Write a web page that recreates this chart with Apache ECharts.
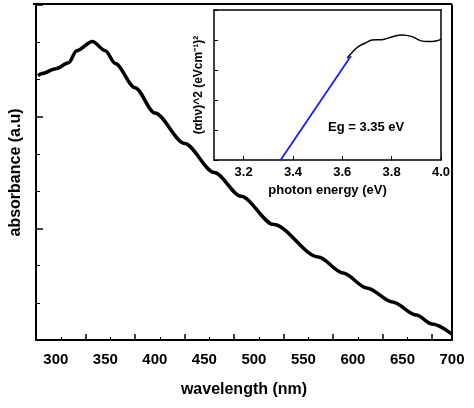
<!DOCTYPE html><html><head><meta charset="utf-8"><script src="https://cdn.jsdelivr.net/npm/echarts@6/dist/echarts.min.js"></script></head><body style="margin:0"><div id="c" style="width:474px;height:408px"></div><script>
const wl=[282,286,300,313,321,337,350,360,380,400,430,460,487,520,565,590,614,640,664,680,700];
const ab=[6.10,6.16,6.29,6.45,6.77,7.02,6.77,6.43,5.78,5.10,4.28,3.50,2.86,2.10,1.23,0.80,0.40,0.02,-0.33,-0.57,-0.84];
const en=[3.62,3.66,3.70,3.72,3.76,3.80,3.84,3.88,3.92,3.95,3.98,4.00];
const ah=[3.40,3.75,3.93,4.00,4.01,4.10,4.17,4.12,3.97,3.95,3.97,4.02];
const fitX=[3.35,3.635];const fitY=[0,3.47];
const xTicks=['300','350','400','450','500','550','600','650','700'];
const f='Arial, Liberation Sans, sans-serif';
const ch=echarts.init(document.getElementById('c'));
ch.setOption({animation:false,
grid:[{left:33,right:22,top:5,bottom:68},{left:214,right:33,top:10,bottom:248,show:true,backgroundColor:'#fff',borderWidth:0,z:5}],
xAxis:[{gridIndex:0,type:'value',min:280,max:700,interval:50,
 axisLine:{onZero:false,lineStyle:{color:'#000',width:2}},axisTick:{inside:true,length:6,lineStyle:{color:'#000',width:1.5}},
 minorTick:{show:true,splitNumber:2,length:3,lineStyle:{color:'#000'}},splitLine:{show:false},
 axisLabel:{color:'#000',fontSize:15,fontWeight:'bold',fontFamily:f,margin:12,customValues:[300,350,400,450,500,550,600,650,700],formatter:v=>xTicks[(v-300)/50]},
 name:'wavelength (nm)',nameLocation:'middle',nameGap:42,nameTextStyle:{color:'#000',fontSize:16,fontWeight:'bold',fontFamily:f}},
{gridIndex:1,type:'value',min:3.08,max:4.0,z:6,
 axisLine:{onZero:false,lineStyle:{color:'#000',width:1.5}},axisTick:{inside:true,length:4,customValues:[3.2,3.4,3.6,3.8,4.0],lineStyle:{color:'#000'}},splitLine:{show:false},
 axisLabel:{color:'#000',fontSize:13,fontWeight:'bold',fontFamily:f,margin:6,customValues:[3.2,3.4,3.6,3.8,4.0],formatter:v=>v.toFixed(1)},
 name:'photon energy (eV)',nameLocation:'middle',nameGap:24,nameTextStyle:{color:'#000',fontSize:13,fontWeight:'bold',fontFamily:f}},
{gridIndex:1,type:'value',min:3.08,max:4.0,position:'top',z:6,axisLine:{onZero:false,lineStyle:{color:'#000',width:1.5}},axisTick:{show:false},axisLabel:{show:false},splitLine:{show:false}}],
yAxis:[{gridIndex:0,type:'value',min:-1,max:8,interval:3,
 axisLine:{onZero:false,lineStyle:{color:'#000',width:2}},axisTick:{inside:true,length:7,lineStyle:{color:'#000',width:1.5}},
 minorTick:{show:true,splitNumber:3,length:4,lineStyle:{color:'#000'}},splitLine:{show:false},axisLabel:{show:false},
 name:'absorbance (a.u)',nameLocation:'middle',nameGap:12,nameTextStyle:{color:'#000',fontSize:16,fontWeight:'bold',fontFamily:f}},
{gridIndex:0,type:'value',min:-1,max:9,position:'right',axisLine:{onZero:false,lineStyle:{color:'#000',width:2}},axisTick:{show:false},axisLabel:{show:false},splitLine:{show:false}},
{gridIndex:0,type:'value',min:-1,max:9,show:false},
{gridIndex:1,type:'value',min:0,max:5,interval:1,z:6,
 axisLine:{onZero:false,lineStyle:{color:'#000',width:1.5}},axisTick:{inside:true,length:4,lineStyle:{color:'#000'}},splitLine:{show:false},axisLabel:{show:false},
 name:'(αhν)^2 (eVcm⁻¹)²',nameLocation:'middle',nameGap:9,nameTextStyle:{color:'#000',fontSize:12,fontWeight:'bold',fontFamily:f}},
{gridIndex:1,type:'value',min:0,max:5,position:'right',z:6,axisLine:{onZero:false,lineStyle:{color:'#000',width:1.5}},axisTick:{show:false},axisLabel:{show:false},splitLine:{show:false}}],
graphic:[{type:'line',shape:{x1:33,y1:4,x2:452,y2:4},style:{stroke:'#000',lineWidth:2}},
 {type:'text',left:328,top:121,z:20,style:{text:'Eg = 3.35 eV',fill:'#000',font:'bold 13px Arial, Liberation Sans, sans-serif'}}],
series:[{type:'line',xAxisIndex:0,yAxisIndex:0,data:wl.map((x,i)=>[x,ab[i]]),smooth:0.3,smoothMonotone:'x',showSymbol:false,lineStyle:{color:'#000',width:3.5}},
{type:'line',xAxisIndex:1,yAxisIndex:3,data:en.map((x,i)=>[x,ah[i]]),smooth:0.3,showSymbol:false,z:7,lineStyle:{color:'#000',width:1.5}},
{type:'line',xAxisIndex:1,yAxisIndex:3,data:fitX.map((x,i)=>[x,fitY[i]]),showSymbol:false,z:8,lineStyle:{color:'#1a1aff',width:1.8}}]});
</script></body></html>
